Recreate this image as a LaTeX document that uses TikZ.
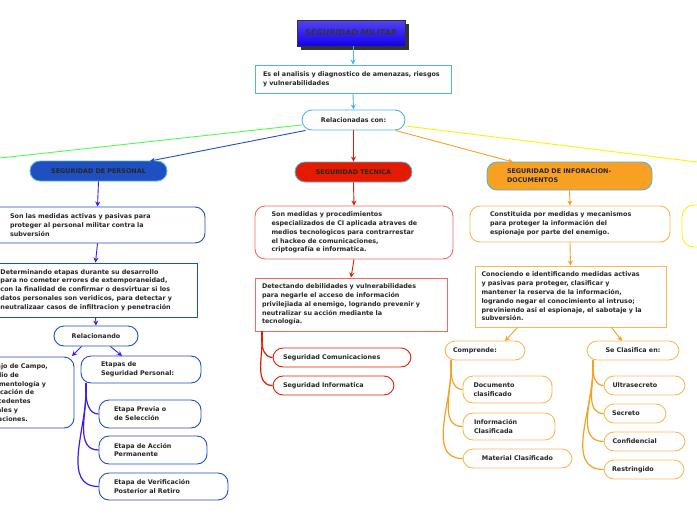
\documentclass[tikz,border=0pt]{standalone}
\usepackage{fontspec}
\setmainfont{DejaVu Sans}
\usetikzlibrary{arrows.meta,shadows}
\definecolor{pblue}{HTML}{1F4FC0}
\definecolor{pline}{HTML}{3A1EF0}
\definecolor{tred}{HTML}{E51B00}
\definecolor{tborder}{HTML}{F06A60}
\definecolor{iorange}{HTML}{F7A021}
\definecolor{iborder}{HTML}{F9B850}
\definecolor{lblue}{HTML}{4FB3E8}
\tikzset{
 txt/.style={font=\bfseries\fontsize{6.4}{8.8}\selectfont, text=black!85, align=left, inner sep=0pt},
 box/.style={txt, draw, line width=0.9pt, minimum width=#1, text width=#1-20pt},
 rbox/.style={box=#1, rounded corners=10pt},
 arr/.style={line width=0.9pt, -{Stealth[length=5pt,width=5pt]}},
 ln/.style={line width=1.4pt},
 tr/.style={line width=1.2pt, out=-90, in=180},
}
\begin{document}
\begin{tikzpicture}[x=1pt,y=-1pt]
\useasboundingbox (0,0) rectangle (697,520);
\clip (0,0) rectangle (697,520);
% title
\fill[black!80] (301,24) rectangle (409,50);
\node[draw=black!80, line width=0.9pt, top color=blue!70!white!90!violet, bottom color=blue!85!violet, minimum width=108pt, minimum height=26pt, font=\bfseries\itshape\fontsize{8}{9}\selectfont, text=black!80, inner sep=0pt] (t) at (351,33) {SEGURIDAD MILITAR};
\node[box=196pt, draw=lblue, minimum height=28pt, text width=180pt] (d) at (353,79) {Es el analisis y diagnostico de amenazas, riesgos y vulnerabilidades};
\node[rbox=103pt, draw=lblue, minimum height=20pt, align=center, text width=90pt] (r) at (353.5,120) {Relacionadas con:};
\draw[arr, lblue] (t.south -| d.north) -- (d.north);
\draw[arr, lblue] (d.south) -- (r.north);
% side lines
\coordinate (gl) at (0,158);
\coordinate (yl) at (697,162);
\draw[line width=0.9pt, green!70!white] (r.west) ++(0,5) -- (gl);
\draw[line width=0.9pt, yellow] (r.east) ++(0,6) -- (yl);
% level 1
\node[rbox=137pt, draw=lblue, fill=pblue, minimum height=20pt, align=center, text width=130pt] (sp) at (98.5,171) {SEGURIDAD DE PERSONAL};
\node[rbox=117pt, draw=lblue, fill=tred, minimum height=20pt, align=center, text width=110pt] (st) at (353.5,172) {SEGURIDAD TECNICA};
\node[rbox=165pt, draw=lblue, fill=iorange, minimum height=28pt, text width=125pt] (si) at (569.5,176) {SEGURIDAD DE INFORACION-\\DOCUMENTOS};
\draw[arr, pblue] (r.south west) ++(4,0) -- (150,161);
\draw[arr, tred] (r.south) -- (st.north);
\draw[arr, iorange] (r.south east) ++(-10,0) -- (513,162);
% personal
\node[rbox=215pt, draw=pblue, minimum height=36pt, text width=175pt] (p1) at (97.5,225) {Son las medidas activas y pasivas para\\proteger al personal militar contra la\\subversión};
\node[box=203pt, draw=pblue, minimum height=54pt, text width=190pt] (p2) at (95.5,290) {Determinando etapas durante su desarrollo\\para no cometer errores de extemporaneidad,\\con la finalidad de confirmar o desvirtuar si los\\datos personales son veridicos, para detectar y\\neutralizaar casos de infiltracion y penetración};
\node[rbox=84pt, draw=pblue, minimum height=20pt, align=center, text width=80pt] (p3) at (96,336) {Relacionando};
\node[rbox=104pt, draw=pblue, minimum height=71pt, text width=82pt] (p4) at (22,392.5) {Trabajo de Campo,\\Estudio de\\Documentología y\\Verificación de\\Antecedentes\\Oficiales y\\Anotaciones.};
\node[rbox=120pt, draw=pblue, minimum height=27pt, text width=80pt] (p5) at (141,369.5) {Etapas de\\Seguridad Personal:};
\node[rbox=102pt, draw=pblue, minimum height=28pt, text width=72pt] (e1) at (150,414) {Etapa Previa o\\de Selección};
\node[rbox=108pt, draw=pblue, minimum height=28pt, text width=78pt] (e2) at (153,450) {Etapa de Acción\\Permanente};
\node[rbox=129pt, draw=pblue, minimum height=27pt, text width=99pt] (e3) at (163.5,486.5) {Etapa de Verificación\\Posterior al Retiro};
\draw[arr, pline] (sp.south) -- (p1.north);
\draw[arr, pline] (p1.south) -- (p2.north);
\draw[arr, pline] (p2.south) -- (p3.north);
\draw[arr, pline] (p3.south west) ++(28,0) -- (72,356);
\draw[arr, pline] (p3.south east) ++(-28,0) -- (122,356);
\coordinate (pc) at (86,392);
\draw[ln, pline] (86,383) -- (pc);
\draw[tr, pline] (pc) to[tr] (e1.west);
\draw[tr, pline] (pc) to[tr] (e2.west);
\draw[tr, pline] (pc) to[tr] (e3.west);
% tecnica
\node[rbox=198pt, draw=tborder, minimum height=53pt, text width=165pt] (t1) at (354,232.5) {Son medidas y procedimientos\\especializados de CI aplicada atraves de\\medios tecnologicos para contrarrestar\\el hackeo de comunicaciones,\\criptografía e informatica.};
\node[box=192pt, draw=tborder, minimum height=53pt, text width=178pt] (t2) at (351,304.5) {Detectando debilidades y vulnerabilidades\\para negarle el acceso de información\\privilejiada al enemigo, logrando prevenir y\\neutralizar su acción mediante la\\tecnología.};
\node[rbox=138pt, draw=tred, minimum height=19pt, text width=118pt] (t3) at (342,357.5) {Seguridad Comunicaciones};
\node[rbox=121pt, draw=tred, minimum height=19pt, text width=101pt] (t4) at (333.5,385.5) {Seguridad Informatica};
\draw[arr, tred] (st.south) -- (t1.north);
\draw[arr, tred] (t1.south) -- (t2.north);
\coordinate (tc) at (262,342);
\draw[ln, tred] (262,331) -- (tc);
\draw[tr, tred] (tc) to[tr] (t3.west);
\draw[tr, tred] (tc) to[tr] (t4.west);
% info
\node[rbox=200pt, draw=iborder, minimum height=36pt, text width=160pt] (i1) at (570,224) {Constituida por medidas y mecanismos\\para proteger la información del\\espionaje por parte del enemigo.};
\node[box=191pt, draw=iborder, minimum height=61pt, text width=178pt] (i2) at (570.5,296.5) {Conociendo e identificando medidas activas\\y pasivas para proteger, clasificar y\\mantener la reserva de la información,\\logrando negar el conocimiento al intruso;\\previniendo asi el espionaje, el sabotaje y la\\subversión.};
\node[rbox=80pt, draw=iborder, minimum height=19pt, text width=64pt] (c) at (485,350.5) {Comprende:};
\node[rbox=92pt, draw=iborder, minimum height=19pt, align=center, text width=80pt] (sc) at (633,350.5) {Se Clasifica en:};
\node[rbox=89pt, draw=iborder, minimum height=27pt, text width=68pt] (c1) at (507.5,389.5) {Documento\\clasificado};
\node[rbox=92pt, draw=iborder, minimum height=27pt, text width=70pt] (c2) at (509,426.5) {Información\\Clasificada};
\node[rbox=109pt, draw=iborder, minimum height=19pt, align=center, text width=100pt] (c3) at (517.5,458.5) {Material Clasificado};
\node[rbox=81pt, draw=iborder, minimum height=19pt, text width=64pt] (s1) at (644.5,385.5) {Ultrasecreto};
\node[rbox=62pt, draw=iborder, minimum height=19pt, text width=46pt] (s2) at (635,413.5) {Secreto};
\node[rbox=81pt, draw=iborder, minimum height=19pt, text width=64pt] (s3) at (644.5,441.5) {Confidencial};
\node[rbox=80pt, draw=iborder, minimum height=19pt, text width=64pt] (s4) at (644,469.5) {Restringido};
\draw[arr, iorange] (si.south) -- (i1.north);
\draw[arr, iorange] (i1.south) -- (i2.north);
\draw[arr, iorange] (i2.south west) ++(43,0) -- (505,341);
\draw[arr, iorange] (i2.south east) ++(-55,0) -- (622,341);
\coordinate (cc) at (451,369);
\draw[ln, iorange] (451,360) -- (cc);
\draw[tr, iorange] (cc) to[tr] (c1.west);
\draw[tr, iorange] (cc) to[tr] (c2.west);
\draw[tr, iorange] (cc) to[tr] (c3.west);
\coordinate (scc) at (593,369);
\draw[ln, iorange] (593,360) -- (scc);
\draw[tr, iorange] (scc) to[tr] (s1.west);
\draw[tr, iorange] (scc) to[tr] (s2.west);
\draw[tr, iorange] (scc) to[tr] (s3.west);
\draw[tr, iorange] (scc) to[tr] (s4.west);
% yellow partial branch
\draw[line width=0.9pt, yellow, rounded corners=12pt] (760,205) -- (682,205) -- (682,247) -- (760,247);
\draw[line width=0.9pt, yellow] (697,268) -- (697,331);
\end{tikzpicture}
\end{document}
